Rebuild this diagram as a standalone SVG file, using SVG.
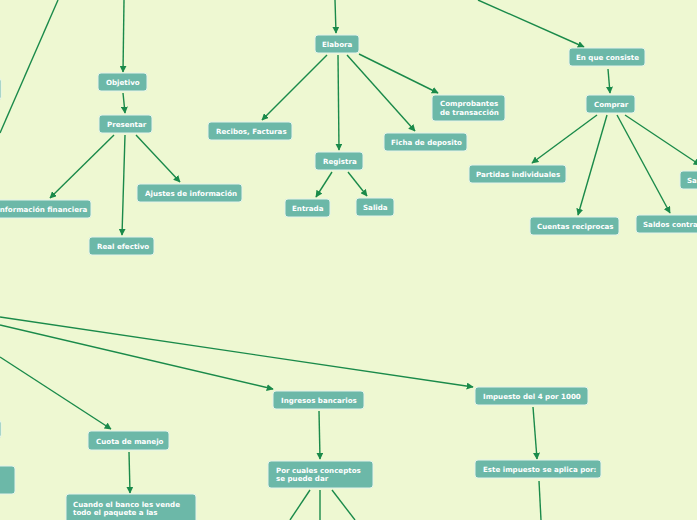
<svg xmlns="http://www.w3.org/2000/svg" width="697" height="520" viewBox="0 0 697 520">
<style>
.n rect{fill:#6cb8a8;stroke:#e4f3ea;stroke-width:1}
.n text{fill:#fff;font-family:"DejaVu Sans",sans-serif;font-weight:bold;font-size:7.1px}
#edges line{stroke:#1a8a4a;stroke-width:1.4;marker-end:url(#a)}
#edges line.p{marker-end:none}
</style>
<defs><marker id="a" viewBox="0 0 10 10" refX="9" refY="5" markerWidth="7" markerHeight="7" orient="auto" markerUnits="userSpaceOnUse"><path d="M0,0L10,5L0,10z" fill="#1a8a4a"/></marker></defs>
<rect width="697" height="520" fill="#eef8d2"/>
<g id="edges">
<line class="p" x1="58" y1="0" x2="0" y2="133"/>
<line x1="124" y1="0" x2="123" y2="72"/>
<line x1="335" y1="0" x2="336" y2="33"/>
<line x1="478" y1="0" x2="584" y2="47"/>
<line x1="123" y1="93" x2="125" y2="113"/>
<line x1="114" y1="135" x2="50" y2="198"/>
<line x1="125" y1="135" x2="122" y2="235"/>
<line x1="136" y1="135" x2="180" y2="182"/>
<line x1="327" y1="55" x2="262" y2="120"/>
<line x1="338" y1="55" x2="339" y2="150"/>
<line x1="347" y1="55" x2="415" y2="131"/>
<line x1="359" y1="54" x2="438" y2="93"/>
<line x1="332" y1="172" x2="316" y2="197"/>
<line x1="348" y1="172" x2="367" y2="196"/>
<line x1="608" y1="69" x2="610" y2="93"/>
<line x1="597" y1="115" x2="532" y2="163"/>
<line x1="607" y1="115" x2="578" y2="215"/>
<line x1="617" y1="115" x2="670" y2="213"/>
<line x1="625" y1="115" x2="700" y2="165"/>
<line x1="0" y1="317" x2="473" y2="387"/>
<line x1="0" y1="325" x2="273" y2="389"/>
<line x1="0" y1="357" x2="111" y2="429"/>
<line x1="319" y1="411" x2="320" y2="459"/>
<line x1="533" y1="407" x2="537" y2="459"/>
<line class="p" x1="539" y1="481" x2="541" y2="520"/>
<line x1="129" y1="452" x2="130" y2="493"/>
<line class="p" x1="310" y1="490" x2="290" y2="520"/>
<line class="p" x1="320" y1="490" x2="320" y2="520"/>
<line class="p" x1="332" y1="490" x2="355" y2="520"/>
</g>
<g id="n1" class="n"><rect x="-40" y="78" width="41" height="22" rx="3"/></g>
<g id="n2" class="n"><rect x="-40" y="420" width="41" height="18" rx="3"/></g>
<g id="n3" class="n"><rect x="-40" y="466" width="55" height="28" rx="3"/></g>
<g id="objetivo" class="n"><rect x="98" y="73" width="49" height="18" rx="3"/><text x="106" y="85">Objetivo</text></g>
<g id="presentar" class="n"><rect x="99" y="115" width="53" height="18" rx="3"/><text x="107" y="127">Presentar</text></g>
<g id="infofin" class="n"><rect x="-30" y="200" width="121" height="18" rx="3"/><text x="-3" y="212">Información financiera</text></g>
<g id="real" class="n"><rect x="89" y="237" width="65" height="18" rx="3"/><text x="97" y="249">Real efectivo</text></g>
<g id="ajustes" class="n"><rect x="137" y="184" width="105" height="18" rx="3"/><text x="145" y="196">Ajustes de información</text></g>
<g id="elabora" class="n"><rect x="315" y="35" width="44" height="18" rx="3"/><text x="322" y="47">Elabora</text></g>
<g id="recibos" class="n"><rect x="208" y="122" width="84" height="18" rx="3"/><text x="216" y="134">Recibos, Facturas</text></g>
<g id="registra" class="n"><rect x="315" y="152" width="48" height="18" rx="3"/><text x="323" y="164">Registra</text></g>
<g id="entrada" class="n"><rect x="285" y="199" width="45" height="18" rx="3"/><text x="292" y="211">Entrada</text></g>
<g id="salida" class="n"><rect x="356" y="198" width="38" height="18" rx="3"/><text x="363" y="210">Salida</text></g>
<g id="comprobantes" class="n"><rect x="432" y="95" width="73" height="26" rx="3"/><text x="440" y="106">Comprobantes</text><text x="440" y="115">de transacción</text></g>
<g id="ficha" class="n"><rect x="384" y="133" width="83" height="18" rx="3"/><text x="391" y="145">Ficha de deposito</text></g>
<g id="enque" class="n"><rect x="569" y="48" width="76" height="18" rx="3"/><text x="576" y="60">En que consiste</text></g>
<g id="comprar" class="n"><rect x="586" y="95" width="49" height="18" rx="3"/><text x="594" y="107">Comprar</text></g>
<g id="partidas" class="n"><rect x="469" y="165" width="97" height="18" rx="3"/><text x="476" y="177">Partidas individuales</text></g>
<g id="cuentas" class="n"><rect x="530" y="217" width="89" height="18" rx="3"/><text x="537" y="229">Cuentas reciprocas</text></g>
<g id="saldos" class="n"><rect x="636" y="215" width="80" height="18" rx="3"/><text x="643" y="227">Saldos contrarios</text></g>
<g id="sa" class="n"><rect x="680" y="171" width="40" height="18" rx="3"/><text x="687" y="183">Saldos</text></g>
<g id="ingresos" class="n"><rect x="273" y="391" width="91" height="18" rx="3"/><text x="281" y="403">Ingresos bancarios</text></g>
<g id="impuesto" class="n"><rect x="475" y="387" width="113" height="18" rx="3"/><text x="483" y="399">Impuesto del 4 por 1000</text></g>
<g id="este" class="n"><rect x="475" y="460" width="126" height="18" rx="3"/><text x="483" y="472">Este impuesto se aplica por:</text></g>
<g id="cuota" class="n"><rect x="88" y="431" width="81" height="19" rx="3"/><text x="96" y="444">Cuota de manejo</text></g>
<g id="porcuales" class="n"><rect x="268" y="461" width="105" height="27" rx="3"/><text x="276" y="473">Por cuales conceptos</text><text x="276" y="481">se puede dar</text></g>
<g id="cuando" class="n"><rect x="66" y="494" width="130" height="36" rx="3"/><text x="73" y="507">Cuando el banco les vende</text><text x="73" y="515">todo el paquete a las</text></g>
</svg>
